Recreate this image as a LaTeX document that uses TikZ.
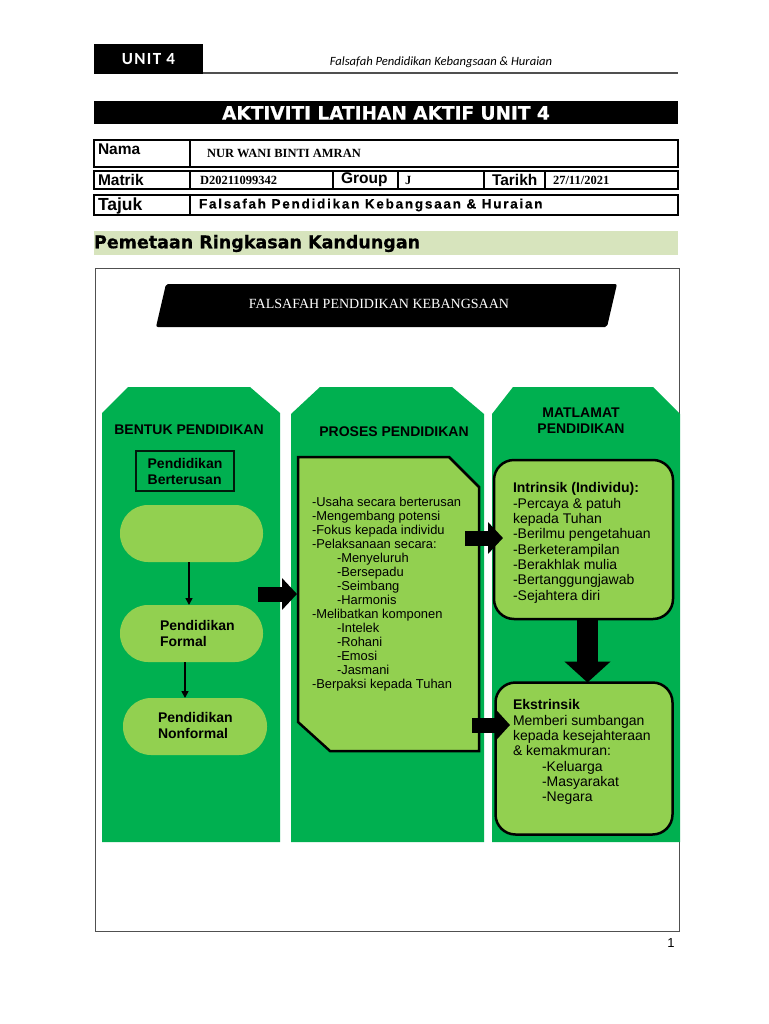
\documentclass[tikz,border=0pt]{standalone}
\usepackage{fontspec}
\setmainfont{Liberation Sans}
\newfontfamily\tmsfont{Liberation Serif}
\newfontfamily\calfont{Carlito}
\newfontfamily\heavyfont{DejaVu Sans}
\usetikzlibrary{arrows.meta}
\definecolor{colgreen}{HTML}{00B050}
\definecolor{lightgreen}{HTML}{92D050}
\definecolor{olivebar}{HTML}{D7E4BD}
\definecolor{framegray}{HTML}{505050}
\begin{document}
\begin{tikzpicture}[x=1pt,y=-1pt,
  every node/.style={inner sep=0pt, outer sep=0pt},
  colshape/.style={fill=colgreen},
  pill/.style={fill=lightgreen, rounded corners=28pt, minimum width=143pt, minimum height=57pt},
  goalbox/.style={fill=lightgreen, draw=black, line width=2.5pt, rounded corners=20pt},
  blockarrow/.style={line width=15pt, -{Triangle[length=15pt,width=31pt]}},
  downarrow/.style={line width=21pt, -{Triangle[length=21pt,width=45pt]}},
  thinarrow/.style={line width=1.6pt, -{Triangle[length=7pt,width=7pt]}},
  lbl/.style={font=\bfseries\fontsize{14}{16}\selectfont},
  celltext/.style={anchor=west, font=\bfseries\fontsize{15.5}{17}\selectfont},
  cellval/.style={anchor=west, font=\tmsfont\bfseries\fontsize{12.5}{14}\selectfont},
  listtext/.style={anchor=north west, align=left, font=\fontsize{12.9}{13.94}\selectfont},
  goaltext/.style={anchor=north west, align=left, font=\fontsize{14}{15.35}\selectfont}
]
\useasboundingbox (0,0) rectangle (768,1024);
\fill[white] (0,0) rectangle (768,1024);

% ---------- header ----------
\draw[framegray, line width=1.5pt] (94,73) -- (678,73);
\node[fill=black, minimum width=109pt, minimum height=30pt, anchor=north west,
      font=\calfont\bfseries\fontsize{17}{19}\selectfont\addfontfeatures{LetterSpace=8}, text=white] (unit) at (94,44) {UNIT 4};
\node[font=\calfont\itshape\fontsize{12.6}{14}\selectfont] (hdr) at (441,62) {Falsafah Pendidikan Kebangsaan \& Huraian};

\node[fill=black, minimum width=584pt, minimum height=23pt, anchor=north west] (banner) at (94,101) {};
\node[text=white, font=\heavyfont\bfseries\fontsize{18.5}{20}\selectfont\addfontfeatures{FakeBold=0.8}] (bannertxt) at (386,113) {AKTIVITI LATIHAN AKTIF UNIT 4};

% ---------- table ----------
\begin{scope}[line width=1.2pt]
\draw (94,140) rectangle (678,167);
\draw (190,140) -- (190,167);
\draw (94,171) rectangle (678,189);
\foreach \xx in {190,333,398,484,545} \draw (\xx,171) -- (\xx,189);
\draw (94,195) rectangle (678,215);
\draw (190,195) -- (190,215);
\end{scope}
\node[celltext] (nama) at (98,149) {Nama};
\node[cellval] (namav) at (207,153) {NUR WANI BINTI AMRAN};
\node[celltext] (matrik) at (98,180) {Matrik};
\node[cellval] (matrikv) at (200,180) {D20211099342};
\node[celltext] (group) at (341,180) {Group};
\node[cellval] (groupv) at (405,180) {J};
\node[celltext] (tarikh) at (492,180) {Tarikh};
\node[cellval] (tarikhv) at (553,180) {27/11/2021};
\node[celltext, font=\bfseries\fontsize{17.5}{19}\selectfont] (tajuk) at (98,205.5) {Tajuk};
\node[anchor=west, font=\bfseries\fontsize{13.5}{15}\selectfont\addfontfeatures{LetterSpace=13,FakeBold=0.4}] (tajukv) at (199,205) {Falsafah Pendidikan Kebangsaan \& Huraian};

% ---------- section bar ----------
\fill[olivebar] (94,231) rectangle (678,255);
\node[anchor=west, font=\heavyfont\bfseries\fontsize{17.5}{19}\selectfont\addfontfeatures{FakeBold=0.8}] (section) at (94,243.5) {Pemetaan Ringkasan Kandungan};

% ---------- frame ----------
\draw[framegray, line width=1pt] (95,268) rectangle (679,931);

% title parallelogram
\fill[black, rounded corners=2pt] (166,284) -- (617,284) -- (607,327) -- (156,327) -- cycle;
\node[text=white, font=\tmsfont\fontsize{14}{16}\selectfont] (title) at (379,304) {FALSAFAH PENDIDIKAN KEBANGSAAN};

% ---------- columns ----------
\fill[colgreen] (102,413) -- (128,387) -- (250,387) -- (280,413) -- (280,842) -- (102,842) -- cycle;
\fill[colgreen] (291,414) -- (320,387) -- (452,387) -- (484,414) -- (484,842) -- (291,842) -- cycle;
\fill[colgreen] (492,414) -- (513,387) -- (653,387) -- (680,414) -- (680,842) -- (492,842) -- cycle;

% ---------- left column ----------
\node[lbl] (bentuk) at (189,430) {BENTUK PENDIDIKAN};
\node[draw=black!85!colgreen, line width=1.2pt, fill=colgreen, minimum width=98pt, minimum height=40pt,
      lbl, align=left] (berterusan) at (185,471) {Pendidikan\\Berterusan};
\node[pill] (pill0) at (191.5,533.5) {};
\node[pill] (formal) at (191.5,633.5) {};
\node[pill, minimum width=144pt] (nonformal) at (195,726.5) {};
\node[lbl, anchor=north west, align=left] (formaltxt) at (160,620.5) {Pendidikan\\Formal};
\node[lbl, anchor=north west, align=left] (nonformaltxt) at (158,712) {Pendidikan\\Nonformal};
\draw[thinarrow] ([xshift=-2.5pt]pill0.south) -- ([xshift=-2.5pt]formal.north);
\draw[thinarrow] ([xshift=-6.5pt]formal.south) -- ([xshift=-6.5pt]formal.south |- nonformal.north);

% ---------- middle column ----------
\node[lbl] (proses) at (394,432) {PROSES PENDIDIKAN};
\draw[fill=lightgreen, line width=2.5pt, line join=miter] (298,457) -- (449,457) -- (479,487) -- (479,751) -- (330,751) -- (298,722) -- cycle;
\node[listtext] (proctxt) at (312,497.5) {-Usaha secara berterusan\\
-Mengembang potensi\\
-Fokus kepada individu\\
-Pelaksanaan secara:\\
\hspace*{25pt}-Menyeluruh\\
\hspace*{25pt}-Bersepadu\\
\hspace*{25pt}-Seimbang\\
\hspace*{25pt}-Harmonis\\
-Melibatkan komponen\\
\hspace*{25pt}-Intelek\\
\hspace*{25pt}-Rohani\\
\hspace*{25pt}-Emosi\\
\hspace*{25pt}-Jasmani\\
-Berpaksi kepada Tuhan};

% ---------- right column ----------
\node[lbl, align=center] (matlamat) at (581,421) {MATLAMAT\\PENDIDIKAN};
\node[goalbox, minimum width=179pt, minimum height=159pt] (intr) at (583.5,539.5) {};
\node[goalbox, minimum width=177pt, minimum height=152pt] (ekst) at (584,758.5) {};
\node[goaltext] (intrtxt) at (513,482.5) {\textbf{Intrinsik (Individu):}\\
-Percaya \& patuh\\
kepada Tuhan\\
-Berilmu pengetahuan\\
-Berketerampilan\\
-Berakhlak mulia\\
-Bertanggungjawab\\
-Sejahtera diri};
\node[goaltext] (eksttxt) at (513,699.5) {\textbf{Ekstrinsik}\\
Memberi sumbangan\\
kepada kesejahteraan\\
\& kemakmuran:\\
\hspace*{29pt}-Keluarga\\
\hspace*{29pt}-Masyarakat\\
\hspace*{29pt}-Negara};

% ---------- block arrows ----------
\coordinate (a1s) at (258,594);
\coordinate (a1e) at (297,594);
\coordinate (a2s) at (465,538);
\coordinate (a2e) at (503,538);
\coordinate (a3s) at (472,725);
\coordinate (a3e) at (510,725);
\draw[blockarrow] (a1s) -- (a1e);
\draw[blockarrow] (a2s) -- (a2e);
\draw[blockarrow, -{Triangle[length=15pt,width=32pt]}] (a3s) -- (a3e);
\draw[downarrow] ([xshift=4pt]intr.south) -- ([xshift=3.5pt]ekst.north);

% page number
\node[font=\fontsize{13}{15}\selectfont] (pagenum) at (671,943) {1};
\end{tikzpicture}
\end{document}
